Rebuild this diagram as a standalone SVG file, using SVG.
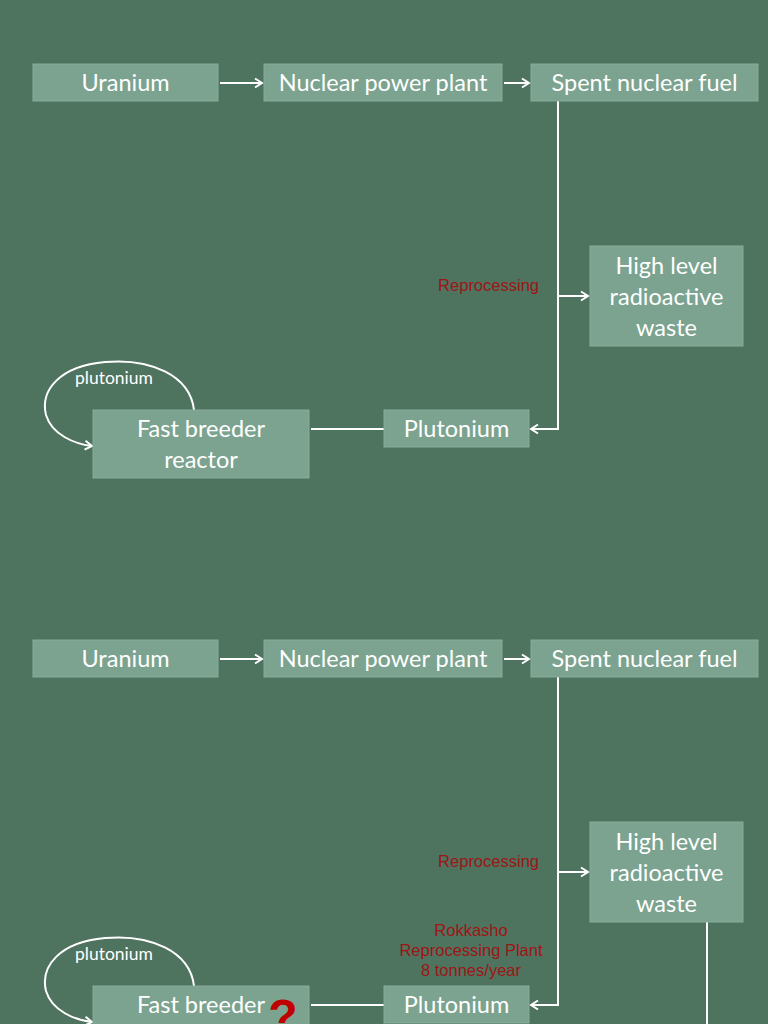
<svg xmlns="http://www.w3.org/2000/svg" width="768" height="1024" viewBox="0 0 768 1024">
<defs>
<marker id="ah" markerWidth="12" markerHeight="12" refX="10" refY="6" orient="auto" markerUnits="userSpaceOnUse">
<path d="M3,1.5 L10,6 L3,10.5" fill="none" stroke="#ffffff" stroke-width="2"/>
</marker>
<style>
.box{fill:#7ba38f;stroke:#86ad99;stroke-width:1}
.t{font-family:Lato,"Open Sans",sans-serif;font-size:23.5px;fill:#ffffff;text-anchor:middle}
.s{font-family:Lato,"Open Sans",sans-serif;font-size:17.5px;fill:#ffffff}
.r{font-family:"Liberation Sans",Arial,sans-serif;font-size:16.5px;fill:#9e1515}
.c{fill:none;stroke:#ffffff;stroke-width:2}
</style>
</defs>
<rect width="768" height="1024" fill="#4e735f"/>

<!-- top diagram -->
<g id="top">
<g id="connectors-top">
<line class="c" x1="220" y1="83" x2="262" y2="83" marker-end="url(#ah)"/>
<line class="c" x1="504" y1="83" x2="529" y2="83" marker-end="url(#ah)"/>
<polyline class="c" points="558,101 558,429 531,429" marker-end="url(#ah)"/>
<line class="c" x1="558" y1="296" x2="588" y2="296" marker-end="url(#ah)"/>
<line class="c" x1="311" y1="429" x2="384" y2="429"/>
<path class="c" d="M194,410 C190,375 150,358 105,362 C60,366 40,390 46,415 C52,435 75,444 92,446" marker-end="url(#ah)"/>
</g>
<g id="uranium-1"><rect class="box" x="33" y="64" width="185" height="37"/><text class="t" x="125.5" y="91">Uranium</text></g>
<g id="npp-1"><rect class="box" x="264" y="64" width="238" height="37"/><text class="t" x="383" y="91">Nuclear power plant</text></g>
<g id="snf-1"><rect class="box" x="531" y="64" width="227" height="37"/><text class="t" x="644.5" y="91">Spent nuclear fuel</text></g>
<g id="hlw-1"><rect class="box" x="590" y="246" width="153" height="100"/><text class="t" x="666.5" y="274">High level</text><text class="t" x="666.5" y="305">radioactive</text><text class="t" x="666.5" y="336">waste</text></g>
<g id="pu-1"><rect class="box" x="384" y="410" width="145" height="37"/><text class="t" x="456.5" y="437">Plutonium</text></g>
<g id="fbr-1"><rect class="box" x="93" y="410" width="216" height="68"/><text class="t" x="201" y="437">Fast breeder</text><text class="t" x="201" y="468">reactor</text></g>
<text class="r" x="539" y="291" text-anchor="end">Reprocessing</text>
<text class="s" x="75" y="384">plutonium</text>
</g>

<!-- bottom diagram -->
<g id="bottom" transform="translate(0,576)">
<g id="connectors-bottom">
<line class="c" x1="220" y1="83" x2="262" y2="83" marker-end="url(#ah)"/>
<line class="c" x1="504" y1="83" x2="529" y2="83" marker-end="url(#ah)"/>
<polyline class="c" points="558,101 558,429 531,429" marker-end="url(#ah)"/>
<line class="c" x1="558" y1="296" x2="588" y2="296" marker-end="url(#ah)"/>
<line class="c" x1="311" y1="429" x2="384" y2="429"/>
<path class="c" d="M194,410 C190,375 150,358 105,362 C60,366 40,390 46,415 C52,435 75,444 92,446" marker-end="url(#ah)"/>
<line class="c" x1="707" y1="346" x2="707" y2="460"/>
</g>
<g id="uranium-2"><rect class="box" x="33" y="64" width="185" height="37"/><text class="t" x="125.5" y="91">Uranium</text></g>
<g id="npp-2"><rect class="box" x="264" y="64" width="238" height="37"/><text class="t" x="383" y="91">Nuclear power plant</text></g>
<g id="snf-2"><rect class="box" x="531" y="64" width="227" height="37"/><text class="t" x="644.5" y="91">Spent nuclear fuel</text></g>
<g id="hlw-2"><rect class="box" x="590" y="246" width="153" height="100"/><text class="t" x="666.5" y="274">High level</text><text class="t" x="666.5" y="305">radioactive</text><text class="t" x="666.5" y="336">waste</text></g>
<g id="pu-2"><rect class="box" x="384" y="410" width="145" height="37"/><text class="t" x="456.5" y="437">Plutonium</text></g>
<g id="fbr-2"><rect class="box" x="93" y="410" width="216" height="68"/><text class="t" x="201" y="437">Fast breeder</text><text class="t" x="201" y="468">reactor</text></g>
<text class="r" x="539" y="291" text-anchor="end">Reprocessing</text>
<text class="s" x="75" y="384">plutonium</text>
<text class="r" x="471" y="360" text-anchor="middle" font-size="15">Rokkasho</text>
<text class="r" x="471" y="380" text-anchor="middle" font-size="15">Reprocessing Plant</text>
<text class="r" x="471" y="400" text-anchor="middle" font-size="15">8 tonnes/year</text>
<text x="283" y="457" font-family="Liberation Sans,Arial,sans-serif" font-size="48" font-weight="bold" fill="#c00000" text-anchor="middle">?</text>
</g>
</svg>
